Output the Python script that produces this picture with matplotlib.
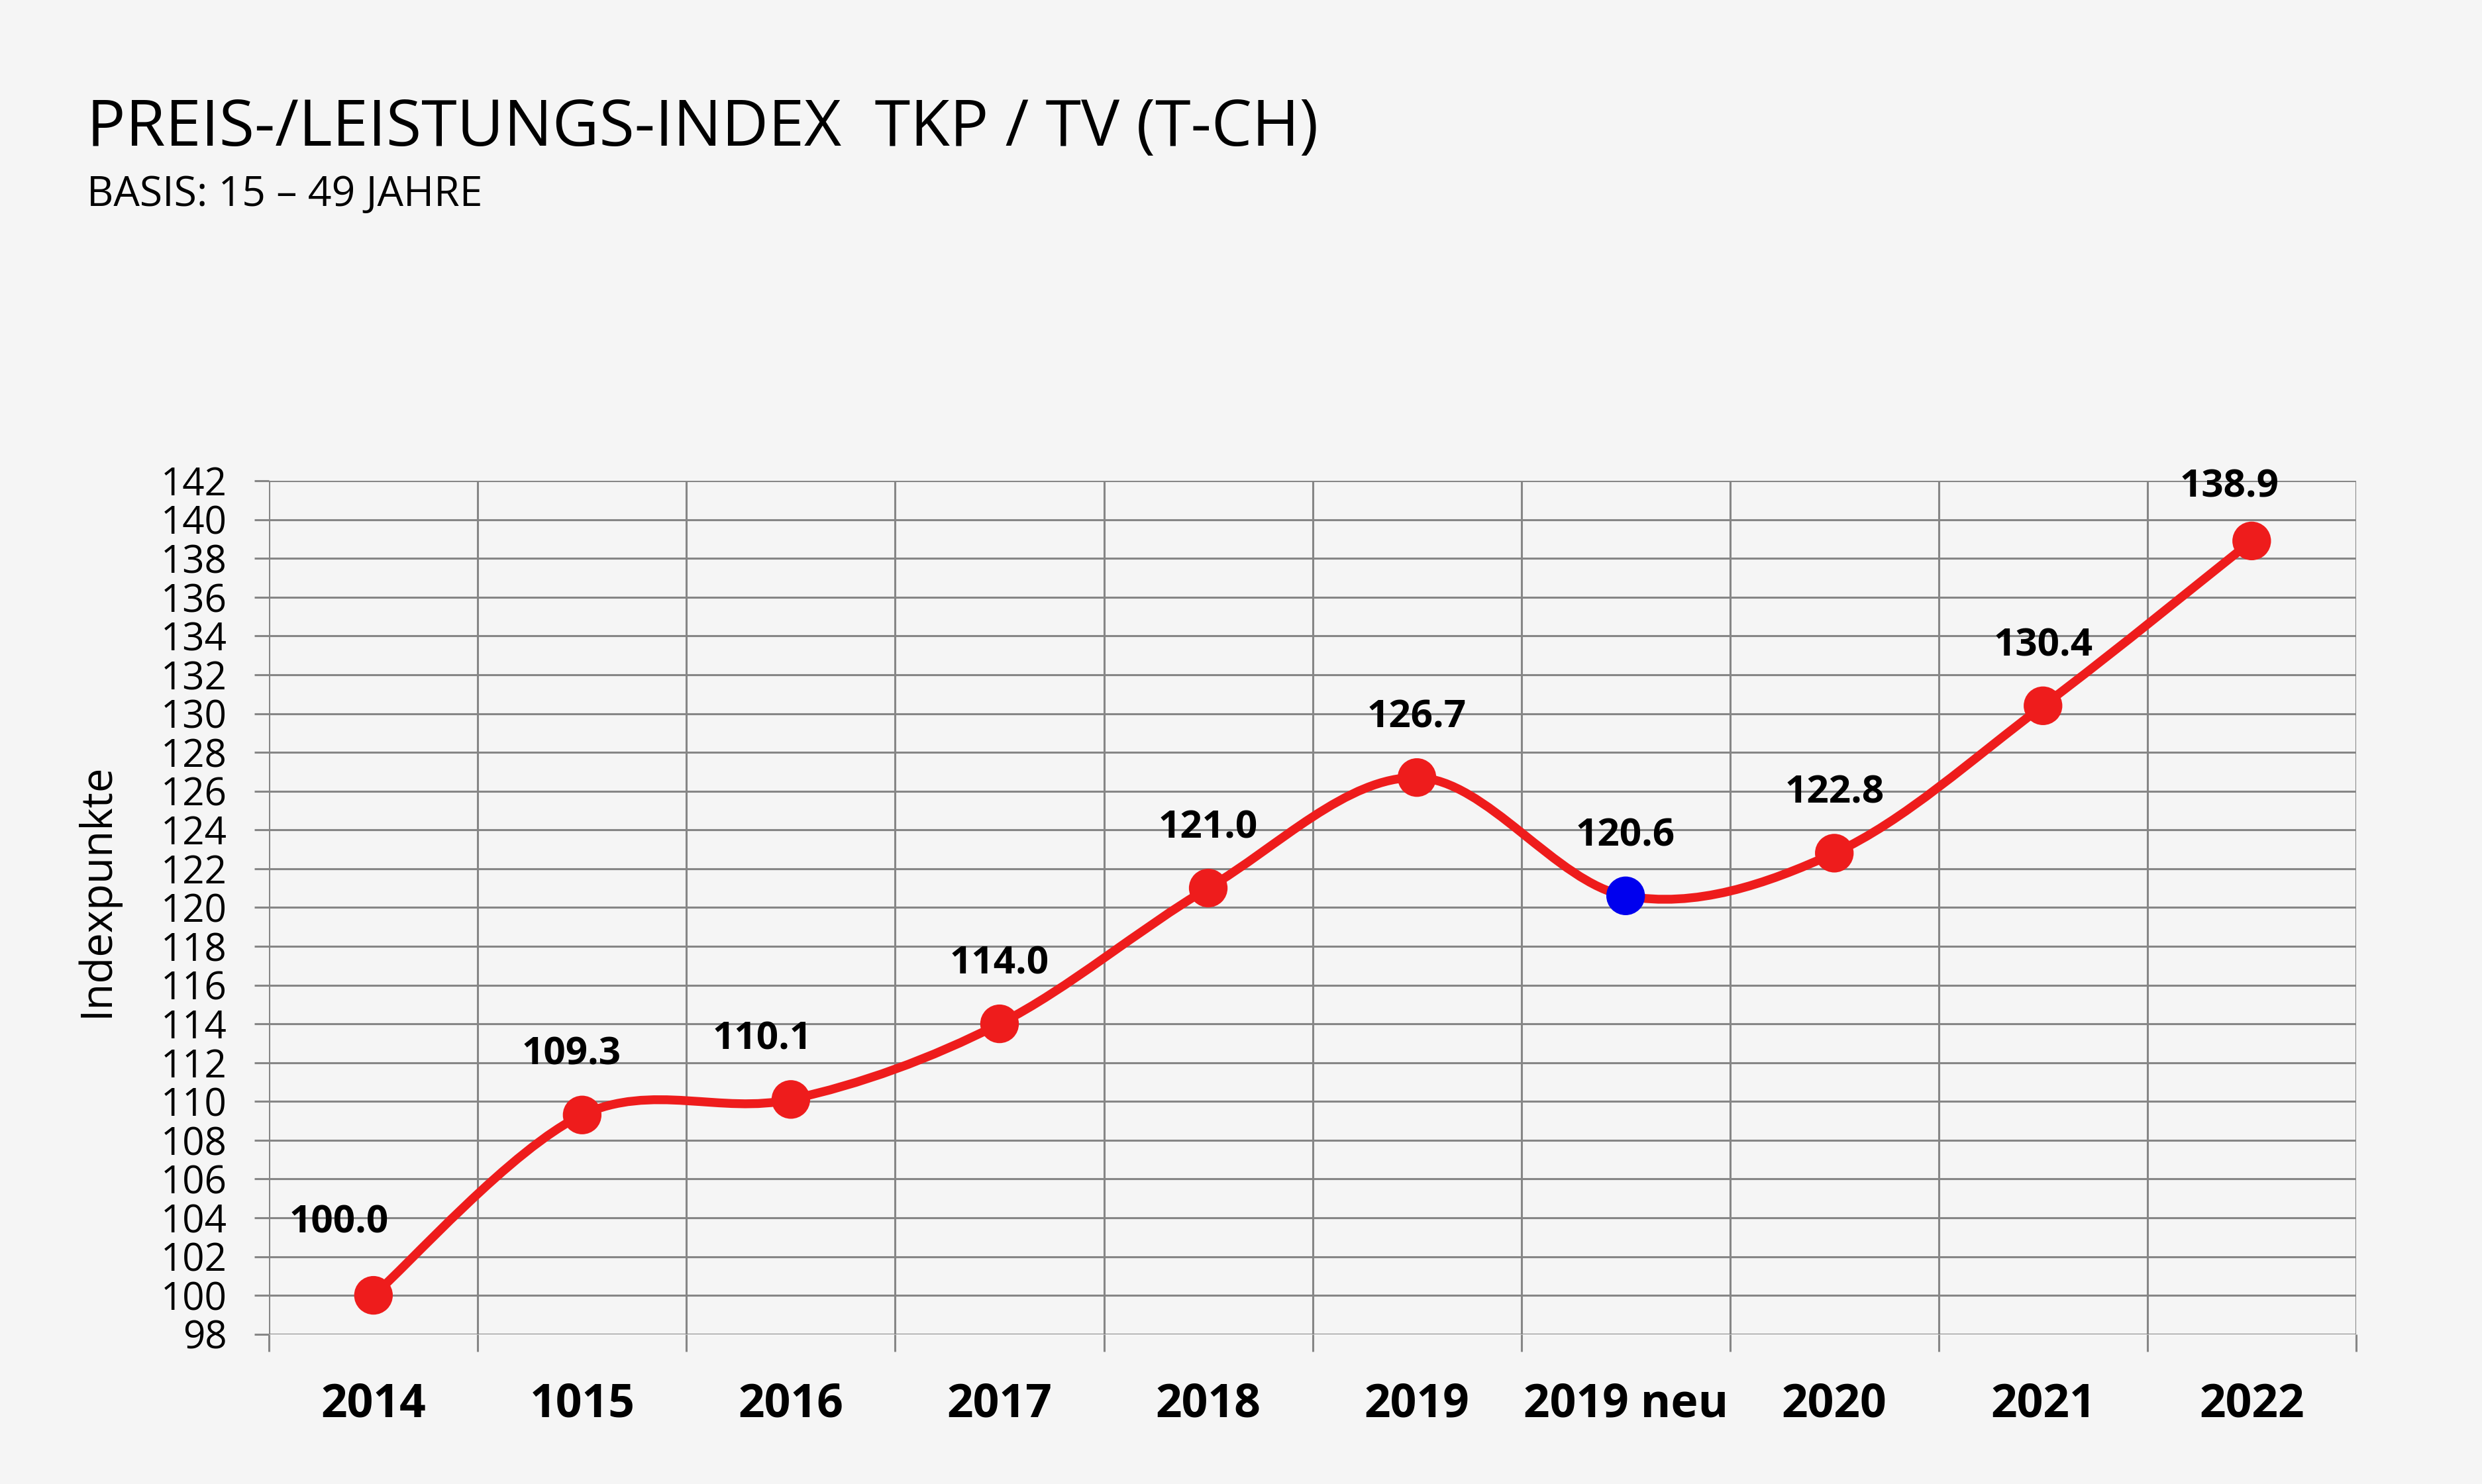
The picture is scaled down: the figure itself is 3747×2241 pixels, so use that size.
import numpy as np
import matplotlib
matplotlib.use("Agg")
import matplotlib.pyplot as plt
from matplotlib.path import Path
from matplotlib.patches import PathPatch

categories = ["2014", "1015", "2016", "2017", "2018", "2019", "2019 neu", "2020", "2021", "2022"]
values = [100.0, 109.3, 110.1, 114.0, 121.0, 126.7, 120.6, 122.8, 130.4, 138.9]
marker_colors = ["#ee1c1c"] * 6 + ["#0000ee"] + ["#ee1c1c"] * 3
label_dx = [-22, -7, -18, 0, 0, 0, 0, 0, 0, -14]   # px offsets (display)
label_dy = [46, 38, 38, 38, 38, 38, 38, 38, 38, 34]
yticks = list(range(98, 143, 2))

title = "PREIS-/LEISTUNGS-INDEX  TKP / TV (T-CH)"
subtitle = "BASIS: 15 \u2013 49 JAHRE"
ylabel = "Indexpunkte"

FONT = ["Open Sans", "DejaVu Sans"]
plt.rcParams["font.family"] = FONT

BG = "#f5f5f5"
GRID = "#868686"
RED = "#ee1c1c"

fig = plt.figure(figsize=(18.74, 11.205), dpi=200, facecolor=BG)
ax = fig.add_axes([0.1084, 0.101, 0.949 - 0.1084, 0.676 - 0.101], facecolor=BG)

n = len(values)
x = np.arange(n, dtype=float)
y = np.array(values, dtype=float)

# smoothed line (cubic Bezier, Catmull-Rom style control points)
verts = [(x[0], y[0])]
codes = [Path.MOVETO]
for i in range(n - 1):
    p0 = np.array([x[max(i - 1, 0)], y[max(i - 1, 0)]])
    p1 = np.array([x[i], y[i]])
    p2 = np.array([x[i + 1], y[i + 1]])
    p3 = np.array([x[min(i + 2, n - 1)], y[min(i + 2, n - 1)]])
    c1 = p1 + (p2 - p0) / 6.0
    c2 = p2 - (p3 - p1) / 6.0
    verts += [tuple(c1), tuple(c2), tuple(p2)]
    codes += [Path.CURVE4] * 3
patch = PathPatch(Path(verts, codes), facecolor="none", edgecolor=RED, lw=4.8,
                  capstyle="round", joinstyle="round", zorder=3)
ax.add_patch(patch)

ax.scatter(x, y, s=21 ** 2, c=marker_colors, zorder=4, linewidths=0)

for i, v in enumerate(values):
    ax.annotate(f"{v:.1f}", (x[i], y[i]),
                xytext=(label_dx[i] * 0.86, label_dy[i] * 0.86), textcoords="offset points",
                ha="center", va="center", fontsize=21, fontweight="bold", color="black",
                zorder=5)

ax.set_xlim(-0.5, n - 0.5)
ax.set_ylim(98, 142)
ax.set_yticks(yticks)
ax.set_yticklabels([str(t) for t in yticks], fontsize=21)
ax.set_xticks(np.arange(-0.5, n, 1.0))
ax.set_xticklabels([])
ax.set_xticks(x, minor=True)
ax.set_xticklabels(categories, minor=True, fontsize=25, fontweight="bold")
ax.tick_params(axis="x", which="minor", length=0, pad=26)
ax.tick_params(axis="x", which="major", length=9.4, width=1.1, color=GRID, direction="out")
ax.tick_params(axis="y", length=8, width=1.1, color=GRID, direction="out", pad=15)

ax.grid(True, which="major", axis="both", color=GRID, lw=1.1, zorder=1)
ax.set_axisbelow(True)
for s in ax.spines.values():
    s.set_visible(False)

fig.text(0.039, 0.40, ylabel, rotation=90, fontsize=23.5, ha="center", va="center")
fig.text(0.035, 0.902, title, fontsize=35, ha="left", va="baseline")
fig.text(0.035, 0.861, subtitle, fontsize=22.5, ha="left", va="baseline")

fig.savefig("out.png", dpi=200, facecolor=BG)
